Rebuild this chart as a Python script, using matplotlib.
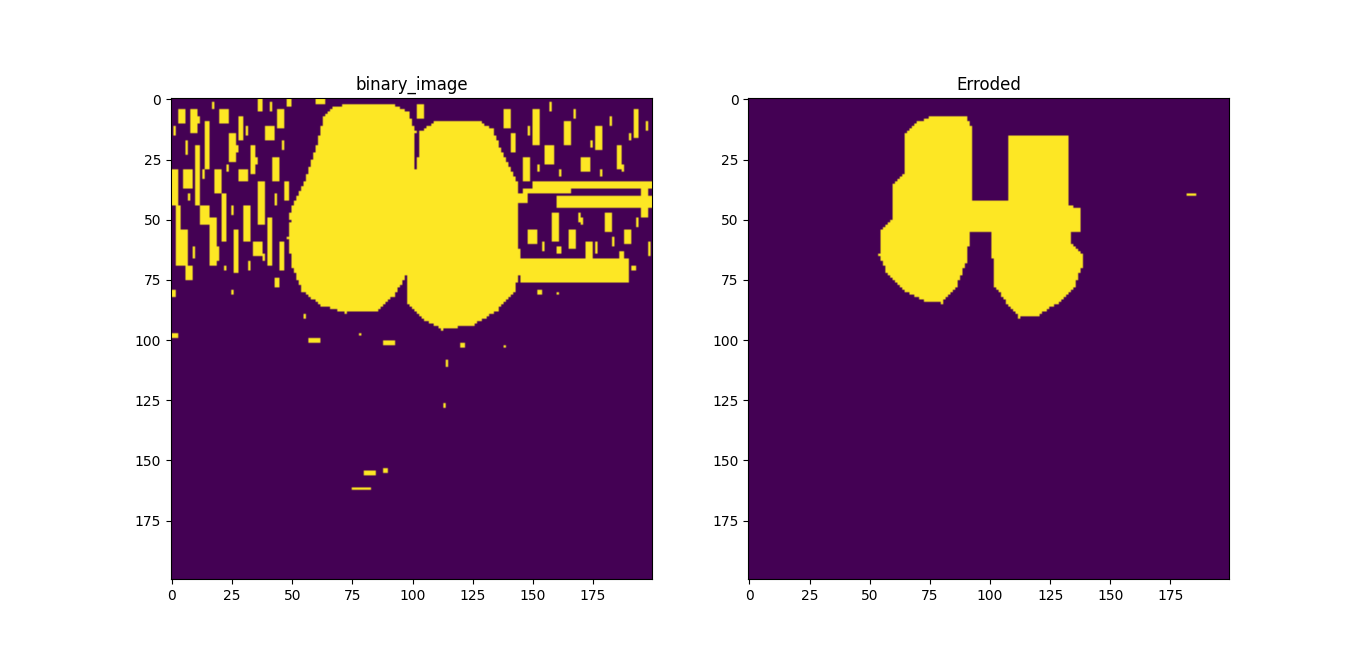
import numpy as np
import matplotlib
matplotlib.use("Agg")
import matplotlib.pyplot as plt
from matplotlib.path import Path

SIZE = 200

# outlines, (column, row)
binary_left_blob = [(67, 4), (75, 2), (92, 3), (98, 6), (101, 14), (100, 30), (102, 45),
                    (100, 60), (98, 72), (92, 82), (85, 88), (72, 89), (62, 86), (54, 80),
                    (50, 70), (48, 58), (50, 45), (55, 35), (60, 20), (63, 8)]
binary_right_blob = [(103, 14), (110, 9), (128, 10), (133, 13), (138, 25), (143, 35), (143, 55),
                     (145, 70), (142, 80), (135, 88), (125, 94), (112, 96), (105, 92), (98, 85),
                     (97, 72), (98, 60), (99, 45), (100, 35), (102, 25)]
eroded_left = [(75, 8), (82, 7), (90, 8), (92, 12), (92, 42), (108, 42), (108, 15),
               (132, 15), (132, 44), (137, 46), (137, 55), (133, 56), (133, 60), (138, 65),
               (138, 70), (135, 78), (128, 85), (120, 90), (112, 91), (107, 85), (102, 78),
               (101, 66), (100, 55), (92, 55), (90, 68), (86, 78), (80, 85), (73, 84),
               (65, 80), (57, 72), (54, 65), (55, 55), (60, 50), (60, 42), (60, 36),
               (65, 30), (65, 15), (70, 10)]

# speckle rectangles (col0, row0, width, height)
speckles = [
    (0, 30, 3, 15), (2, 45, 2, 25), (4, 55, 3, 15), (5, 30, 4, 8), (8, 5, 3, 10),
    (10, 20, 2, 25), (12, 45, 4, 8), (14, 10, 2, 20), (16, 50, 3, 20), (18, 30, 3, 10),
    (20, 5, 4, 6), (21, 40, 2, 20), (24, 15, 3, 12), (26, 55, 2, 18), (28, 30, 4, 5),
    (28, 8, 2, 10), (30, 45, 3, 15), (33, 20, 2, 12), (34, 60, 4, 6), (36, 0, 2, 6),
    (36, 35, 3, 18), (39, 12, 4, 6), (40, 50, 2, 20), (42, 25, 3, 10), (44, 5, 3, 8),
    (45, 60, 2, 12), (47, 35, 2, 8), (3, 5, 3, 6), (0, 80, 2, 3), (6, 70, 3, 6),
    (150, 35, 50, 3), (146, 38, 20, 2), (160, 41, 40, 5), (145, 67, 45, 10), (150, 5, 3, 15),
    (155, 20, 4, 8), (158, 48, 3, 12), (163, 10, 3, 10), (165, 55, 3, 8), (170, 25, 4, 6),
    (172, 60, 3, 8), (176, 12, 3, 10), (180, 48, 3, 8), (185, 20, 2, 10), (188, 55, 3, 6),
    (192, 5, 2, 12), (195, 35, 3, 15), (146, 25, 3, 10), (143, 40, 5, 4), (148, 55, 4, 6),
    (138, 5, 3, 8), (141, 15, 2, 8), (178, 70, 6, 4), (60, 0, 4, 3), (48, 0, 2, 4),
    (102, 3, 3, 6), (57, 100, 5, 2), (88, 101, 5, 2), (78, 98, 1, 1), (120, 102, 2, 2),
    (114, 109, 1, 3), (113, 127, 1, 2), (80, 155, 5, 2), (88, 154, 2, 2), (75, 162, 8, 1),
    (0, 98, 3, 2), (55, 90, 1, 2), (138, 103, 1, 1), (25, 80, 1, 2), (43, 75, 2, 4),
    # finer texture
    (1, 12, 1, 4), (6, 18, 1, 6), (9, 62, 1, 5), (11, 8, 1, 3), (13, 30, 1, 4),
    (17, 2, 1, 3), (19, 62, 1, 6), (23, 28, 1, 3), (25, 45, 1, 4), (27, 20, 1, 3),
    (31, 12, 1, 4), (32, 68, 1, 4), (35, 25, 1, 3), (38, 65, 1, 3), (41, 2, 1, 4),
    (43, 40, 1, 5), (46, 18, 1, 4), (49, 48, 1, 3), (7, 40, 1, 3), (22, 70, 1, 2),
    (148, 12, 1, 4), (152, 28, 1, 3), (157, 2, 1, 4), (161, 30, 1, 3), (167, 5, 1, 4),
    (169, 48, 1, 4), (174, 18, 1, 3), (178, 30, 1, 3), (182, 8, 1, 4), (183, 58, 1, 4),
    (187, 28, 1, 3), (190, 15, 1, 3), (193, 50, 1, 4), (197, 10, 1, 4), (198, 60, 1, 6),
    (154, 60, 1, 4), (160, 62, 2, 3), (176, 60, 1, 5), (186, 64, 2, 3), (152, 80, 2, 2),
    (160, 81, 1, 1), (170, 50, 1, 3), (191, 70, 2, 2),
]
eroded_speck = [(182, 40, 4, 1)]

rows, cols = np.mgrid[0:SIZE, 0:SIZE]
pts = np.column_stack([cols.ravel(), rows.ravel()])


def fill(poly):
    return Path(poly).contains_points(pts).reshape(SIZE, SIZE)


binary_image = fill(binary_left_blob) | fill(binary_right_blob)
for c, r, w, h in speckles:
    binary_image[r:r + h, c:c + w] = True

eroded = fill(eroded_left)
for c, r, w, h in eroded_speck:
    eroded[r:r + h, c:c + w] = True

fig, (ax1, ax2) = plt.subplots(1, 2, figsize=(13.66, 6.71), dpi=100)
ax1.imshow(binary_image.astype(float), cmap="viridis")
ax1.set_title("binary_image")
ax2.imshow(eroded.astype(float), cmap="viridis")
ax2.set_title("Erroded")
fig.savefig("out.png")
